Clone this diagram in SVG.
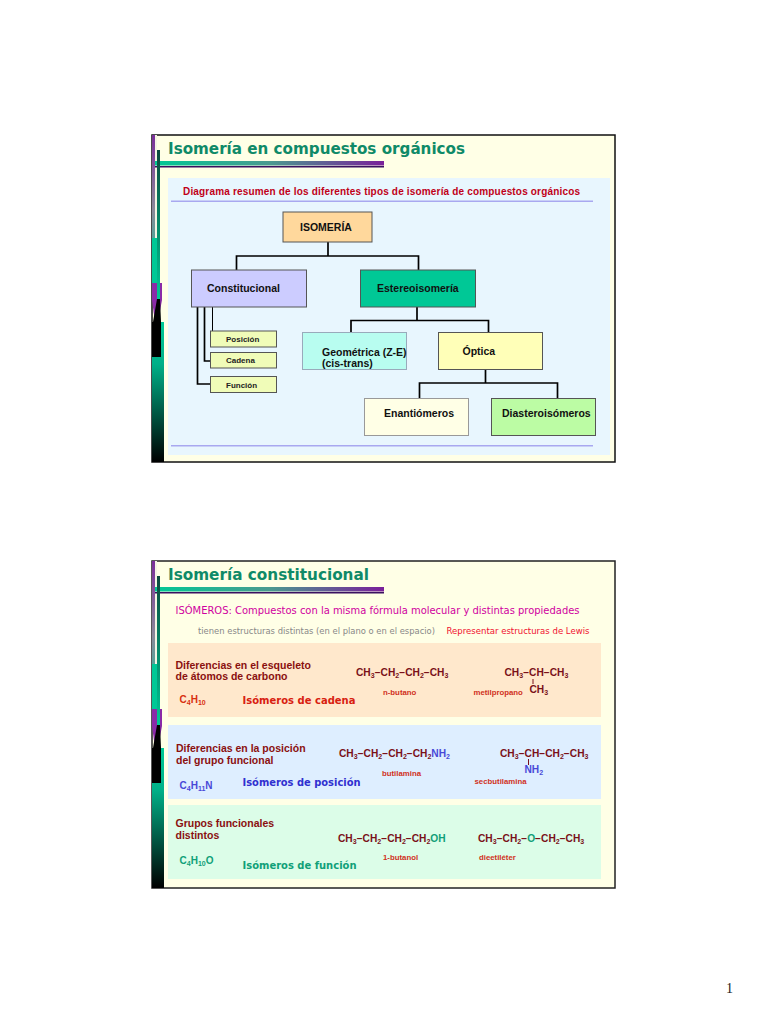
<svg xmlns="http://www.w3.org/2000/svg" xmlns:xlink="http://www.w3.org/1999/xlink" width="768" height="1024" viewBox="0 0 768 1024">
<style>
text{font-family:"Liberation Sans",Arial,sans-serif;font-weight:bold}
.t{font-family:"DejaVu Sans",sans-serif;font-size:16px;fill:#0f8a68}
.c{font-family:"DejaVu Sans",sans-serif}
.r{font-family:"DejaVu Sans",sans-serif;font-weight:normal}
.n{font-size:10.500px;fill:#111}
.s{font-size:8px;fill:#222}
.box{stroke:#555;stroke-width:1}
.w{fill:none;stroke:#000;stroke-width:1.700}
.d{font-size:10.500px;fill:#8a1010}
.f{font-size:10.200px;fill:#7a1018}
.l{font-size:7.800px;fill:#d0301c}
.x{font-size:11px;font-weight:bold}
.b{font-size:7px}
</style>
<defs>
<linearGradient id="bar" x1="0" x2="1" y1="0" y2="0"><stop offset="0" stop-color="#00c896"/><stop offset="0.5" stop-color="#4a9a90"/><stop offset="1" stop-color="#7a1f9a"/></linearGradient>
<linearGradient id="low" x1="0" x2="0" y1="0" y2="1"><stop offset="0" stop-color="#00c896"/><stop offset="0.3" stop-color="#00b088"/><stop offset="1" stop-color="#000"/></linearGradient>
<linearGradient id="thin" x1="0" x2="0" y1="0" y2="1"><stop offset="0" stop-color="#0a4a3c"/><stop offset="1" stop-color="#00c896"/></linearGradient>
<linearGradient id="lp" x1="0" x2="0" y1="0" y2="1"><stop offset="0" stop-color="#7a2f9a"/><stop offset="0.5" stop-color="#8a8a9a"/><stop offset="1" stop-color="#00c896"/></linearGradient>
<g id="side">
<rect x="152" y="135" width="3" height="150" fill="url(#lp)"/>
<rect x="155" y="135" width="2" height="150" fill="#f4f4e4"/>
<rect x="152" y="238" width="5" height="45" fill="#00c896"/>
<polygon points="152,283 162,283 162,300 158,322 155,322 152,300" fill="#8a2aa8"/>
<rect x="155" y="161" width="229" height="4.500" fill="url(#bar)"/>
<rect x="155" y="166" width="229" height="1.500" fill="#3a1060"/>
<rect x="157" y="150" width="3" height="149" fill="url(#thin)"/>
<polygon points="157,299 153,322 152,322 152,357 161,357 161,322 160,299" fill="#000"/>
<rect x="152" y="322" width="12" height="140" fill="url(#low)"/>
<rect x="152" y="322" width="9" height="35" fill="#000"/>
</g>
</defs>

<rect width="768" height="1024" fill="#fff"/>

<g id="slide1">
<rect x="152" y="135" width="463" height="327" fill="#ffffe6" stroke="#111" stroke-width="1.500"/>
<rect x="168" y="178" width="442" height="277" fill="#e8f6fe"/>
<use href="#side" xlink:href="#side"/>
<text class="t" x="168" y="154" textLength="297" lengthAdjust="spacingAndGlyphs">Isomería en compuestos orgánicos</text>
<text x="183" y="195" font-size="10" fill="#c00018" textLength="397" lengthAdjust="spacing">Diagrama resumen de los diferentes tipos de isomería de compuestos orgánicos</text>
<rect x="171" y="200.500" width="422" height="1.500" fill="#a8a8f0"/>
<rect x="171" y="445" width="422" height="1.500" fill="#a8a8f0"/>
</g>

<g id="connectors">
<path class="w" d="M328 242V256M236.500 270V256H418.500V270"/>
<path class="w" d="M417 307V320.500M351 332V320.500H488.500V332"/>
<path class="w" d="M485.500 369V383M419.500 398V383H557.500V398"/>
<path class="w" style="stroke-width:1" d="M212.500 307V331"/>
<path class="w" d="M204.500 307V361H211"/>
<path class="w" d="M197.500 307V384H211"/>
</g>

<g id="n-isomeria"><rect class="box" x="283" y="212" width="89" height="30" fill="#ffd89c"/><text class="n" x="300" y="230.500">ISOMERÍA</text></g>
<g id="n-const"><rect class="box" x="191.500" y="270" width="115" height="37" fill="#ccccff"/><text class="n" x="207" y="292">Constitucional</text></g>
<g id="n-estereo"><rect class="box" x="360.500" y="270" width="115" height="37" fill="#00c896"/><text class="n" x="377" y="292">Estereoisomería</text></g>
<g id="n-posicion"><rect class="box" x="210.500" y="331" width="66" height="16" fill="#f0fcb8"/><text class="s" x="226" y="342">Posición</text></g>
<g id="n-cadena"><rect class="box" x="210.500" y="352.500" width="66" height="15.500" fill="#f0fcb8"/><text class="s" x="226" y="363">Cadena</text></g>
<g id="n-funcion"><rect class="box" x="210.500" y="376.500" width="66" height="16" fill="#f0fcb8"/><text class="s" x="226" y="388">Función</text></g>
<g id="n-geo"><rect x="302.500" y="332.500" width="104" height="37" fill="#b8fdf0" stroke="#9ab" stroke-width="1"/><text class="n" x="322" y="355.500">Geométrica (Z-E)</text><text class="n" x="322" y="366.500">(cis-trans)</text></g>
<g id="n-optica"><rect class="box" x="438.500" y="332.500" width="104" height="37" fill="#ffffb8"/><text class="n" x="462.500" y="355">Óptica</text></g>
<g id="n-enan"><rect x="364.500" y="398.500" width="104" height="37" fill="#ffffe6" stroke="#999" stroke-width="1"/><text class="n" x="384" y="417">Enantiómeros</text></g>
<g id="n-dia"><rect class="box" x="491.500" y="398.500" width="104" height="37" fill="#bcfca4"/><text class="n" x="502" y="417">Diasteroisómeros</text></g>

<g id="slide2">
<rect x="152" y="561" width="463" height="327" fill="#ffffe6" stroke="#222" stroke-width="1.500"/>
<use href="#side" xlink:href="#side" y="426"/>
<text class="t" x="168" y="580" textLength="201" lengthAdjust="spacingAndGlyphs">Isomería constitucional</text>
<text class="r" x="175.500" y="614" font-size="10.500" fill="#d000a0" textLength="404" lengthAdjust="spacingAndGlyphs">ISÓMEROS: Compuestos con la misma fórmula molecular y distintas propiedades</text>
<text class="r" x="198" y="634" font-size="8.500" fill="#888" textLength="237" lengthAdjust="spacingAndGlyphs">tienen estructuras distintas  (en el plano o en el espacio)</text>
<text class="r" x="446.500" y="634" font-size="8.500" fill="#f01030" textLength="143" lengthAdjust="spacingAndGlyphs">Representar estructuras de Lewis</text>
<rect x="168" y="643" width="433" height="74" fill="#ffe8cc"/>
<rect x="168" y="725" width="433" height="74" fill="#deeeff"/>
<rect x="168" y="805" width="433" height="74" fill="#dcfde8"/>

<text class="d" x="175.500" y="669">Diferencias en el esqueleto</text>
<text class="d" x="175.500" y="680">de átomos de carbono</text>
<text x="179.500" y="703" font-size="10" fill="#d83010">C<tspan class="b" dy="2">4</tspan><tspan dy="-2">H</tspan><tspan class="b" dy="2">10</tspan></text>
<text class="c x" x="242.500" y="704" fill="#d82010" textLength="113" lengthAdjust="spacingAndGlyphs">Isómeros de cadena</text>
<text class="f" x="356" y="676">CH<tspan class="b" dy="2">3</tspan><tspan dy="-2">−CH</tspan><tspan class="b" dy="2">2</tspan><tspan dy="-2">−CH</tspan><tspan class="b" dy="2">2</tspan><tspan dy="-2">−CH</tspan><tspan class="b" dy="2">3</tspan></text>
<text class="f" x="504.500" y="676">CH<tspan class="b" dy="2">3</tspan><tspan dy="-2">−CH−CH</tspan><tspan class="b" dy="2">3</tspan></text>
<rect x="532.500" y="679" width="1" height="5" fill="#7a1018"/>
<text class="f" x="529.500" y="693">CH<tspan class="b" dy="2">3</tspan></text>
<text class="l" x="383" y="695">n-butano</text>
<text class="l" x="473.500" y="695">metilpropano</text>

<text class="d" x="176" y="752">Diferencias en la posición</text>
<text class="d" x="176" y="764">del grupo funcional</text>
<text x="179.500" y="789" font-size="10" fill="#4848d8">C<tspan class="b" dy="2">4</tspan><tspan dy="-2">H</tspan><tspan class="b" dy="2">11</tspan><tspan dy="-2">N</tspan></text>
<text class="c x" x="242.500" y="786" fill="#3030d0" textLength="118" lengthAdjust="spacingAndGlyphs">Isómeros de posición</text>
<text class="f" x="339" y="757">CH<tspan class="b" dy="2">3</tspan><tspan dy="-2">−CH</tspan><tspan class="b" dy="2">2</tspan><tspan dy="-2">−CH</tspan><tspan class="b" dy="2">2</tspan><tspan dy="-2">−CH</tspan><tspan class="b" dy="2">2</tspan><tspan dy="-2" fill="#4848d8">NH</tspan><tspan class="b" dy="2" fill="#4848d8">2</tspan></text>
<text class="f" x="500" y="757">CH<tspan class="b" dy="2">3</tspan><tspan dy="-2">−CH−CH</tspan><tspan class="b" dy="2">2</tspan><tspan dy="-2">−CH</tspan><tspan class="b" dy="2">3</tspan></text>
<rect x="528" y="759" width="1" height="6" fill="#7a1018"/>
<text x="524.500" y="773" font-size="10.200" fill="#4848d8">NH<tspan class="b" dy="2">2</tspan></text>
<text class="l" x="382" y="776">butilamina</text>
<text class="l" x="474.500" y="784">secbutilamina</text>

<text class="d" x="175.500" y="827">Grupos funcionales</text>
<text class="d" x="175.500" y="839">distintos</text>
<text x="179.500" y="864" font-size="10" fill="#10a078">C<tspan class="b" dy="2">4</tspan><tspan dy="-2">H</tspan><tspan class="b" dy="2">10</tspan><tspan dy="-2">O</tspan></text>
<text class="c x" x="242.500" y="869" fill="#10a078" textLength="114" lengthAdjust="spacingAndGlyphs">Isómeros de función</text>
<text class="f" x="338" y="842">CH<tspan class="b" dy="2">3</tspan><tspan dy="-2">−CH</tspan><tspan class="b" dy="2">2</tspan><tspan dy="-2">−CH</tspan><tspan class="b" dy="2">2</tspan><tspan dy="-2">−CH</tspan><tspan class="b" dy="2">2</tspan><tspan dy="-2" fill="#10a078">OH</tspan></text>
<text class="f" x="478" y="842">CH<tspan class="b" dy="2">3</tspan><tspan dy="-2">−CH</tspan><tspan class="b" dy="2">2</tspan><tspan dy="-2">−</tspan><tspan fill="#10a078">O</tspan><tspan>−CH</tspan><tspan class="b" dy="2">2</tspan><tspan dy="-2">−CH</tspan><tspan class="b" dy="2">3</tspan></text>
<text class="l" x="383" y="860">1-butanol</text>
<text class="l" x="479" y="860">dieetiléter</text>
</g>

<text x="726" y="993" font-size="14" fill="#222" style="font-family:'Liberation Serif',serif;font-weight:normal">1</text>
</svg>
